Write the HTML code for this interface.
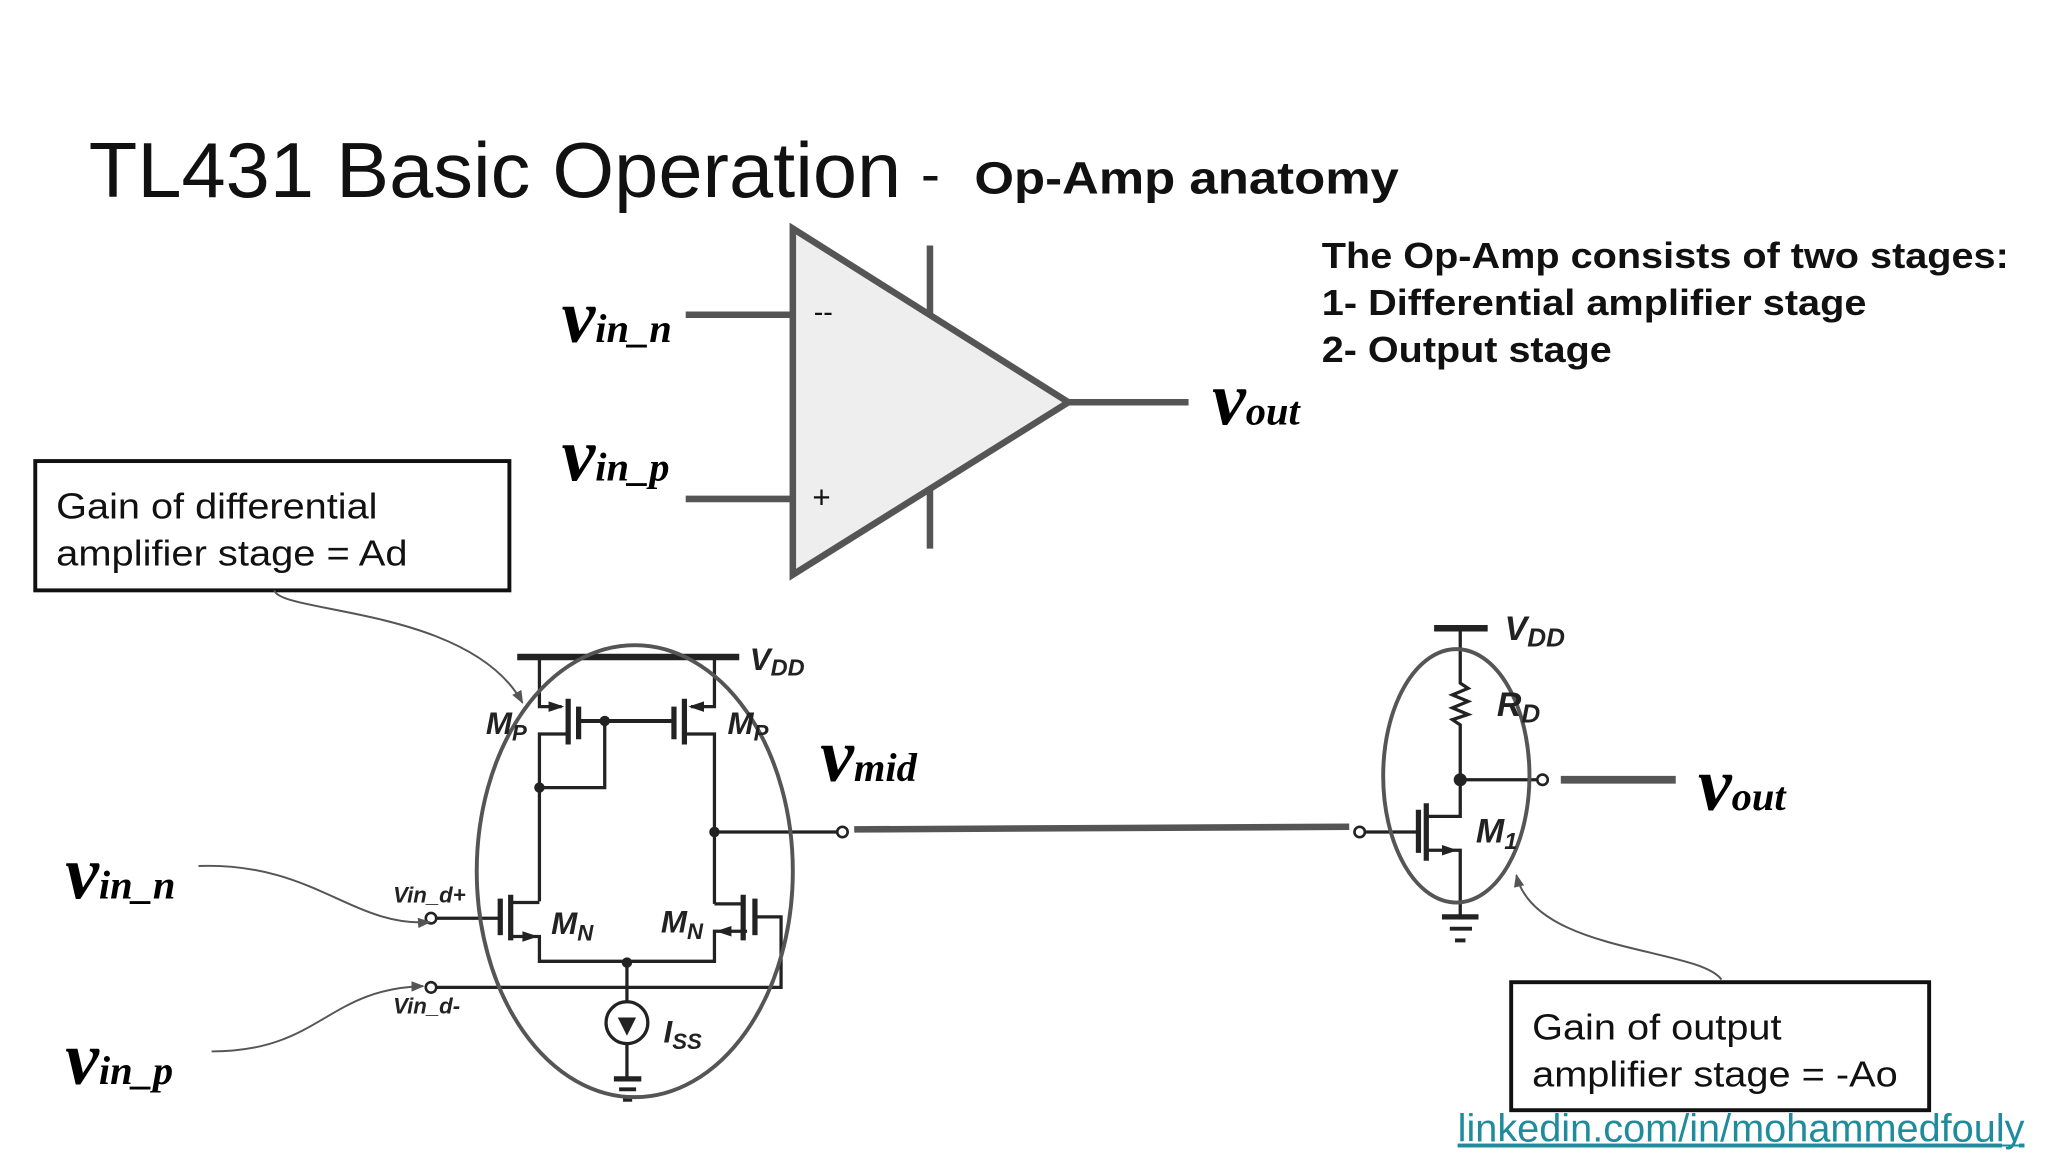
<!DOCTYPE html>
<html><head><meta charset="utf-8"><style>
html,body{margin:0;padding:0;background:#fff;}
svg{display:block;}
.sans{font-family:"Liberation Sans",sans-serif;}
.serif{font-family:"Liberation Serif",serif;font-weight:bold;font-style:italic;}
.lbl{font-family:"Liberation Sans",sans-serif;font-style:italic;font-weight:bold;fill:#222;}
</style></head><body>
<svg width="2048" height="1152" viewBox="0 0 1568 882" preserveAspectRatio="none" xmlns="http://www.w3.org/2000/svg">
<defs>
<marker id="ah" markerWidth="10" markerHeight="8" refX="9" refY="4" orient="auto" markerUnits="userSpaceOnUse"><path d="M0,0 L10,4 L0,8 z" fill="#555"/></marker>
</defs>
<rect width="1568" height="882" fill="#fff"/>
<!-- Title -->
<text class="sans" x="68" y="151" font-size="60" textLength="622" lengthAdjust="spacingAndGlyphs" fill="#111">TL431 Basic Operation</text>
<text class="sans" x="705" y="148" font-size="44" fill="#111">-</text>
<text class="sans" x="746" y="148" font-size="35" font-weight="bold" textLength="325" lengthAdjust="spacingAndGlyphs" fill="#111">Op-Amp anatomy</text>

<!-- op amp -->
<g stroke="#555" stroke-width="5" fill="none">
<line x1="525" y1="241" x2="607" y2="241"/>
<line x1="525" y1="382" x2="607" y2="382"/>
<line x1="818" y1="308" x2="910" y2="308"/>
<line x1="712" y1="188" x2="712" y2="240"/>
<line x1="712" y1="375" x2="712" y2="420"/>
<polygon points="607,175 818,308 607,440" fill="#eee"/>
</g>
<text class="sans" x="623" y="246" font-size="22" fill="#111">--</text>
<text class="sans" x="622" y="389" font-size="24" fill="#111">+</text>
<text class="serif" x="430" y="262" font-size="58">v<tspan font-size="31">in_n</tspan></text>
<text class="serif" x="430" y="368" font-size="58">v<tspan font-size="31">in_p</tspan></text>
<text class="serif" x="928" y="325" font-size="58">v<tspan font-size="31">out</tspan></text>

<g class="sans" font-size="28" font-weight="bold" fill="#111">
<text x="1012" y="205" textLength="526" lengthAdjust="spacingAndGlyphs">The Op-Amp consists of two stages:</text>
<text x="1012" y="241" textLength="417" lengthAdjust="spacingAndGlyphs">1- Differential amplifier stage</text>
<text x="1012" y="277" textLength="222" lengthAdjust="spacingAndGlyphs">2- Output stage</text>
</g>

<!-- box 1 -->
<rect x="27" y="353" width="363" height="99" fill="#fff" stroke="#111" stroke-width="3"/>
<text class="sans" x="43" y="397" font-size="28" textLength="246" lengthAdjust="spacingAndGlyphs" fill="#111">Gain of differential</text>
<text class="sans" x="43" y="433" font-size="28" textLength="269" lengthAdjust="spacingAndGlyphs" fill="#111">amplifier stage = Ad</text>
<path d="M210,452 C215,470 360,465 400,538" stroke="#555" stroke-width="1.5" fill="none" marker-end="url(#ah)"/>

<!-- differential amp -->
<g stroke="#222" stroke-width="2.5" fill="none">
<line x1="396" y1="503" x2="566" y2="503" stroke-width="5"/>
<polyline points="413,503 413,541 430,541"/>
<line x1="435" y1="535" x2="435" y2="570" stroke-width="4"/>
<line x1="443" y1="541" x2="443" y2="566" stroke-width="4"/>
<polyline points="435,562 413,562 413,690"/>
<line x1="443" y1="552" x2="516" y2="552" stroke-width="3"/>
<polyline points="463,552 463,603 413,603"/>
<polyline points="547,503 547,541 529,541"/>
<line x1="524" y1="535" x2="524" y2="570" stroke-width="4"/>
<line x1="516" y1="541" x2="516" y2="566" stroke-width="4"/>
<polyline points="524,562 547,562 547,692"/>
<line x1="547" y1="637" x2="641" y2="637"/>
<line x1="391" y1="685" x2="391" y2="720" stroke-width="4"/>
<line x1="383" y1="688" x2="383" y2="716" stroke-width="4"/>
<polyline points="391,691 413,691"/>
<line x1="333" y1="703" x2="383" y2="703"/>
<polyline points="391,717 413,717 413,736 547,736 547,713 572,713"/>
<line x1="569" y1="685" x2="569" y2="720" stroke-width="4"/>
<line x1="578" y1="688" x2="578" y2="716" stroke-width="4"/>
<polyline points="547,692 569,692"/>
<polyline points="578,702 598,702 598,756 333,756"/>
<line x1="480" y1="736" x2="480" y2="825"/>
<circle cx="480" cy="783" r="16" fill="#fff"/>
<line x1="470" y1="826" x2="491" y2="826" stroke-width="4"/>
<line x1="474" y1="834" x2="487" y2="834" stroke-width="3"/>
<line x1="477" y1="842" x2="484" y2="842" stroke-width="3"/>
</g>
<path d="M473,779 L487,779 L480,793 z" fill="#222"/>
<path d="M420,537 L432,541 L420,545 z" fill="#222"/>
<path d="M539,537 L527,541 L539,545 z" fill="#222"/>
<path d="M400,713 L412,717 L400,721 z" fill="#222"/>
<path d="M560,709 L548,713 L560,717 z" fill="#222"/>
<circle cx="463" cy="552" r="4" fill="#222"/>
<circle cx="413" cy="603" r="4" fill="#222"/>
<circle cx="547" cy="637" r="4" fill="#222"/>
<circle cx="480" cy="737" r="4" fill="#222"/>
<circle cx="645" cy="637" r="4" fill="#fff" stroke="#222" stroke-width="2"/>
<circle cx="330" cy="703" r="4" fill="#fff" stroke="#222" stroke-width="2"/>
<circle cx="330" cy="756" r="4" fill="#fff" stroke="#222" stroke-width="2"/>
<ellipse cx="486" cy="667" rx="121" ry="173" fill="none" stroke="#555" stroke-width="3"/>
<text class="lbl" x="574" y="513" font-size="24">V<tspan font-size="18" dy="4">DD</tspan></text>
<text class="lbl" x="372" y="562" font-size="24">M<tspan font-size="17" dy="5">P</tspan></text>
<text class="lbl" x="557" y="562" font-size="24">M<tspan font-size="17" dy="5">P</tspan></text>
<text class="lbl" x="422" y="715" font-size="24">M<tspan font-size="17" dy="5">N</tspan></text>
<text class="lbl" x="506" y="714" font-size="24">M<tspan font-size="17" dy="5">N</tspan></text>
<text class="lbl" x="508" y="798" font-size="24">I<tspan font-size="17" dy="5">SS</tspan></text>
<text class="lbl" x="301" y="691" font-size="17">Vin_d+</text>
<text class="lbl" x="301" y="776" font-size="17">Vin_d-</text>

<text class="serif" x="50" y="688" font-size="58">v<tspan font-size="31">in_n</tspan></text>
<text class="serif" x="50" y="830" font-size="58">v<tspan font-size="31">in_p</tspan></text>
<path d="M152,663 C240,660 270,710 329,706" stroke="#555" stroke-width="1.5" fill="none" marker-end="url(#ah)"/>
<path d="M162,805 C245,805 250,757 324,755" stroke="#555" stroke-width="1.5" fill="none" marker-end="url(#ah)"/>

<text class="serif" x="628" y="598" font-size="58">v<tspan font-size="31">mid</tspan></text>
<line x1="654" y1="635" x2="1033" y2="633" stroke="#555" stroke-width="5"/>

<!-- output stage -->
<g stroke="#222" stroke-width="2.5" fill="none">
<line x1="1098" y1="481" x2="1139" y2="481" stroke-width="5"/>
<polyline points="1118,481 1118,523 1124,527 1112,532 1124,537 1112,542 1124,547 1112,551 1118,555 1118,625 1092,625"/>
<line x1="1118" y1="597" x2="1177" y2="597"/>
<line x1="1092" y1="615" x2="1092" y2="659" stroke-width="4"/>
<line x1="1086" y1="620" x2="1086" y2="653" stroke-width="4"/>
<line x1="1044" y1="637" x2="1086" y2="637"/>
<polyline points="1092,651 1118,651 1118,701"/>
<line x1="1104" y1="702" x2="1132" y2="702" stroke-width="4"/>
<line x1="1110" y1="711" x2="1127" y2="711" stroke-width="3"/>
<line x1="1114" y1="720" x2="1122" y2="720" stroke-width="3"/>
</g>
<path d="M1104,647 L1116,651 L1104,655 z" fill="#222"/>
<circle cx="1118" cy="597" r="5" fill="#222"/>
<circle cx="1181" cy="597" r="4" fill="#fff" stroke="#222" stroke-width="2"/>
<circle cx="1041" cy="637" r="4" fill="#fff" stroke="#222" stroke-width="2"/>
<line x1="1195" y1="597" x2="1283" y2="597" stroke="#555" stroke-width="6"/>
<ellipse cx="1115" cy="594" rx="56" ry="97" fill="none" stroke="#555" stroke-width="3"/>
<text class="lbl" x="1152" y="490" font-size="26">V<tspan font-size="20" dy="5">DD</tspan></text>
<text class="lbl" x="1146" y="548" font-size="26">R<tspan font-size="20" dy="5">D</tspan></text>
<text class="lbl" x="1130" y="645" font-size="26">M<tspan font-size="18" dy="5">1</tspan></text>
<text class="serif" x="1300" y="620" font-size="58">v<tspan font-size="31">out</tspan></text>
<path d="M1318,750 C1300,725 1175,730 1161,670" stroke="#555" stroke-width="1.5" fill="none" marker-end="url(#ah)"/>

<!-- box 2 -->
<rect x="1157" y="752" width="320" height="98" fill="#fff" stroke="#111" stroke-width="3"/>
<text class="sans" x="1173" y="796" font-size="28" textLength="191" lengthAdjust="spacingAndGlyphs" fill="#111">Gain of output</text>
<text class="sans" x="1173" y="832" font-size="28" textLength="280" lengthAdjust="spacingAndGlyphs" fill="#111">amplifier stage = -Ao</text>
<text class="sans" x="1116" y="874" font-size="30" textLength="434" lengthAdjust="spacingAndGlyphs" fill="#1e8c9c" text-decoration="underline">linkedin.com/in/mohammedfouly</text>
<line x1="1116" y1="877" x2="1550" y2="877" stroke="#1e8c9c" stroke-width="1.5"/>
</svg>
</body></html>
